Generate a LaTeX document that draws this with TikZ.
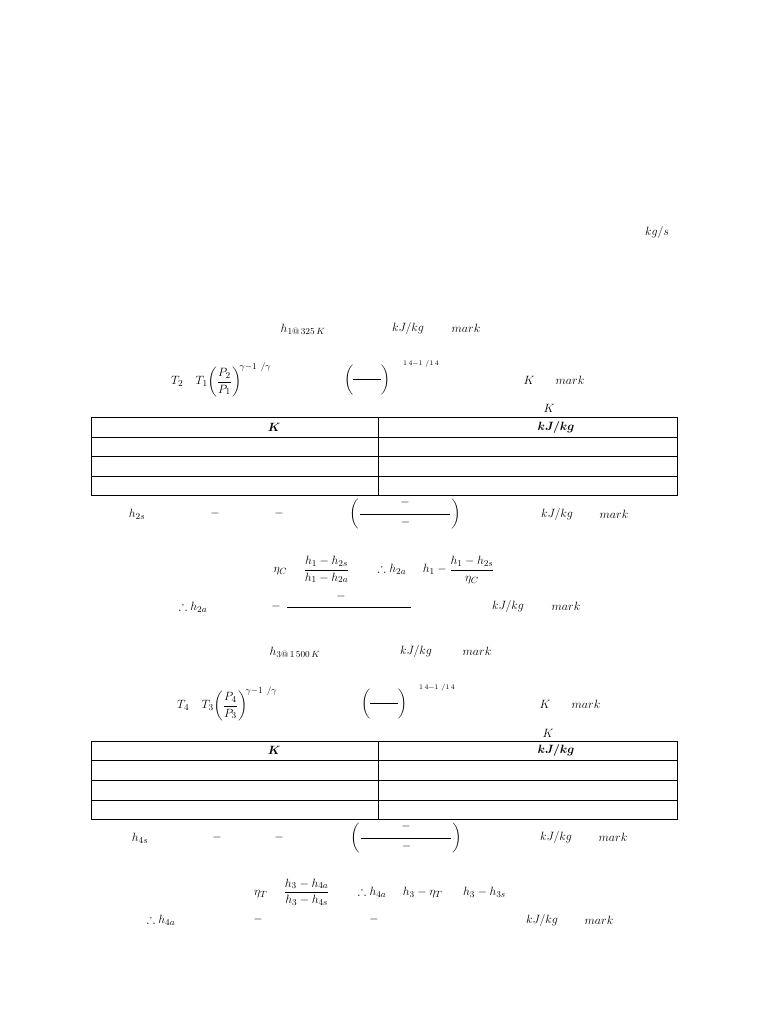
\documentclass[tikz,border=0pt]{standalone}
\usepackage{amsmath,amssymb}
\begin{document}
\begin{tikzpicture}[x=1pt,y=-1pt,t/.style={inner sep=0pt,font=\fontsize{12.5}{15}\selectfont},tbl/.style={line width=0.7pt}]
\useasboundingbox (0,0) rectangle (768,1024);
\node[t] (kgs) at (657,233) {$kg/s$};
% block 1
\node[t] (h1) at (303,329) {$h_{1@\,325\,K}$};
\node[t] (u1) at (408,328) {$kJ/kg$};
\node[t] (m1) at (466,328) {$mark$};
\node[t,anchor=west] (T2) at (171,380) {$T_2\quad T_1\!\left(\dfrac{P_2}{P_1}\right)^{\!\gamma-1\ /\gamma}$};
\node[t] (p1) at (367,380) {$\left(\vphantom{\dfrac{P_2}{P_1}}\rule[0.25em]{2.2em}{0.4pt}\right)$};
\node[t] (e1) at (421,364) {\scriptsize$1\,4{-}1\ /1\,4$};
\node[t] (K1) at (529,380) {$K$};
\node[t] (m2) at (570,380) {$mark$};
\node[t] (K2) at (549,408) {$K$};
\draw[tbl] (91,417) rectangle (677,495);
\foreach \yy in {437,456,476} \draw[tbl] (91,\yy) -- (677,\yy);
\draw[tbl] (378,417) -- (378,495);
\node[t] (hk1) at (274,427) {$\boldsymbol{K}$};
\node[t] (hj1) at (556,427) {$\boldsymbol{kJ/kg}$};
\node[t] (h2s) at (137,514) {$h_{2s}$};
\node[t] (d1) at (215,513) {$-$};
\node[t] (d2) at (279,513) {$-$};
\node[t] (f1) at (405,514) {$\left(\dfrac{\raisebox{0.3em}{$-$}\rule{0pt}{0.5em}}{\rule{7.2em}{0pt}\hspace{-3.9em}-\hspace{3.2em}}\right)$};
\node[t] (u2) at (557,514) {$kJ/kg$};
\node[t] (m3) at (614,514) {$mark$};
\node[t] (etac) at (384,570) {$\eta_C\quad\ \dfrac{h_1-h_{2s}}{h_1-h_{2a}}\qquad\therefore h_{2a}\quad\ h_1-\dfrac{h_1-h_{2s}}{\eta_C}$};
\node[t] (h2a) at (193,607) {$\therefore h_{2a}$};
\node[t] (d3) at (276,606) {$-$};
\node[t] (fr2) at (341,596) {$-$};
\draw (287,607) -- (411,607);
\node[t] (u3) at (508,606) {$kJ/kg$};
\node[t] (m4) at (566,606) {$mark$};
% block 2
\node[t] (h3) at (295,652) {$h_{3@\,1\,500\,K}$};
\node[t] (u4) at (416,651) {$kJ/kg$};
\node[t] (m5) at (477,651) {$mark$};
\node[t,anchor=west] (T4) at (177,704) {$T_4\quad T_3\!\left(\dfrac{P_4}{P_3}\right)^{\!\gamma-1\ /\gamma}$};
\node[t] (p2) at (384,704) {$\left(\vphantom{\dfrac{P_2}{P_1}}\rule[0.25em]{2.2em}{0.4pt}\right)$};
\node[t] (e2) at (437,688) {\scriptsize$1\,4{-}1\ /1\,4$};
\node[t] (K3) at (545,704) {$K$};
\node[t] (m6) at (586,704) {$mark$};
\node[t] (K4) at (548,733) {$K$};
\draw[tbl] (91,741) rectangle (677,819);
\foreach \yy in {760,780,800} \draw[tbl] (91,\yy) -- (677,\yy);
\draw[tbl] (378,741) -- (378,819);
\node[t] (hk2) at (274,750) {$\boldsymbol{K}$};
\node[t] (hj2) at (556,750) {$\boldsymbol{kJ/kg}$};
\node[t] (h4s) at (140,838) {$h_{4s}$};
\node[t] (d4) at (217,837) {$-$};
\node[t] (d5) at (279,837) {$-$};
\node[t] (f2) at (406,838) {$\left(\dfrac{\raisebox{0.3em}{$-$}\rule{0pt}{0.5em}}{\rule{7.2em}{0pt}\hspace{-3.9em}-\hspace{3.2em}}\right)$};
\node[t] (u5) at (556,837) {$kJ/kg$};
\node[t] (m7) at (613,837) {$mark$};
\node[t] (etat) at (380,892) {$\eta_T\quad\ \dfrac{h_3-h_{4a}}{h_3-h_{4s}}\qquad\therefore h_{4a}\quad\ h_3-\eta_T\quad\ \ h_3-h_{3s}$};
\node[t] (h4a) at (161,920) {$\therefore h_{4a}$};
\node[t] (d6) at (258,919) {$-$};
\node[t] (d7) at (374,919) {$-$};
\node[t] (u6) at (542,920) {$kJ/kg$};
\node[t] (m8) at (599,920) {$mark$};
\end{tikzpicture}
\end{document}
